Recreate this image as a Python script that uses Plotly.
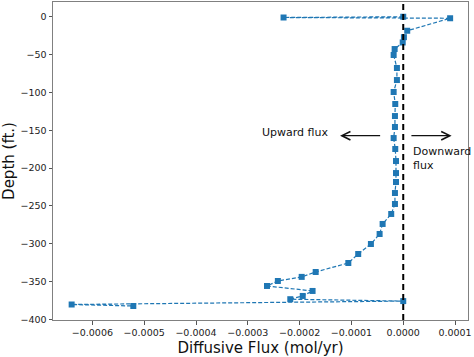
import plotly.graph_objects as go

# Data (depth-ordered profile)
depth_ft = [0, -1, -2, -18.5, -27, -34, -42.7, -50.6, -67.8, -83.7, -99.5, -115.4,
            -131.3, -145.8, -160.4, -174.9, -190.8, -206.7, -218.5, -233.1, -247.6,
            -260.8, -274, -287.3, -300.5, -313.7, -325.6, -337.5, -344, -349.4, -356,
            -362.6, -369.2, -373.5, -376, -380.5, -382.5]
flux_mol_yr = [0.0, -0.000231, 0.0000905, 0.0000077, 0.0000013, -0.000001, -0.0000166,
               -0.0000185, -0.0000122, -0.0000122, -0.0000185, -0.0000154, -0.000016,
               -0.000016, -0.0000185, -0.0000154, -0.000014, -0.000014, -0.000014,
               -0.000016, -0.000016, -0.0000232, -0.0000398, -0.0000456, -0.0000624,
               -0.0000869, -0.000106, -0.000169, -0.000196, -0.000242, -0.000263,
               -0.000175, -0.000194, -0.000218, 0.0, -0.00064, -0.000521]

blue = "#1f77b4"
fig = go.Figure()
fig.add_trace(go.Scatter(
    x=flux_mol_yr, y=depth_ft, mode="lines+markers",
    line=dict(color=blue, width=1.2, dash="4px,2px"),
    marker=dict(symbol="square", size=6, color=blue),
    showlegend=False,
))

# zero-flux reference line
fig.add_shape(type="line", xref="x", yref="paper", x0=0, x1=0, y0=0, y1=1,
              line=dict(color="black", width=2, dash="6px,4px"))

ann_font = dict(family="DejaVu Sans", size=11, color="#111")
fig.add_annotation(x=-0.0002085, y=-153.3, text="Upward flux", showarrow=False,
                   xref="x", yref="y", font=ann_font)
fig.add_annotation(x=0.0000149, y=-178.5, text="Downward", showarrow=False,
                   xref="x", yref="y", xanchor="left", font=ann_font)
fig.add_annotation(x=0.0000149, y=-197, text="flux", showarrow=False,
                   xref="x", yref="y", xanchor="left", font=ann_font)
# arrows
fig.add_annotation(x=-0.000122, y=-157.3, ax=-0.0000417, ay=-157.3, xref="x", yref="y",
                   axref="x", ayref="y", text="", showarrow=True, arrowhead=5,
                   arrowsize=1.4, arrowwidth=1.2, arrowcolor="#111")
fig.add_annotation(x=0.0000934, y=-157.3, ax=0.0000129, ay=-157.3, xref="x", yref="y",
                   axref="x", ayref="y", text="", showarrow=True, arrowhead=5,
                   arrowsize=1.4, arrowwidth=1.2, arrowcolor="#111")

axis_common = dict(showline=True, mirror=True, linecolor="#808080", linewidth=1,
                   ticks="outside", ticklen=3.5, tickcolor="#555", tickwidth=1,
                   showgrid=False, zeroline=False,
                   tickfont=dict(family="DejaVu Sans", size=9.5, color="#222"))

fig.update_layout(
    width=474, height=357,
    margin=dict(l=53, r=6, t=2, b=37),
    paper_bgcolor="white", plot_bgcolor="white",
    xaxis=dict(range=[-0.000676, 0.000125], tick0=0, dtick=0.0001, tickformat=".4f",
               title=dict(text="Diffusive Flux (mol/yr)", standoff=7,
                          font=dict(family="DejaVu Sans", size=15, color="#111")),
               automargin=False, **axis_common),
    yaxis=dict(range=[-401, 19.5], tick0=0, dtick=50,
               title=dict(text="Depth (ft.)", standoff=6,
                          font=dict(family="DejaVu Sans", size=15, color="#111")),
               automargin=False, **axis_common),
)

fig.write_html("out.html", config={"displayModeBar": False},
               post_script="document.body.style.margin='0';document.body.style.overflow='hidden';")
